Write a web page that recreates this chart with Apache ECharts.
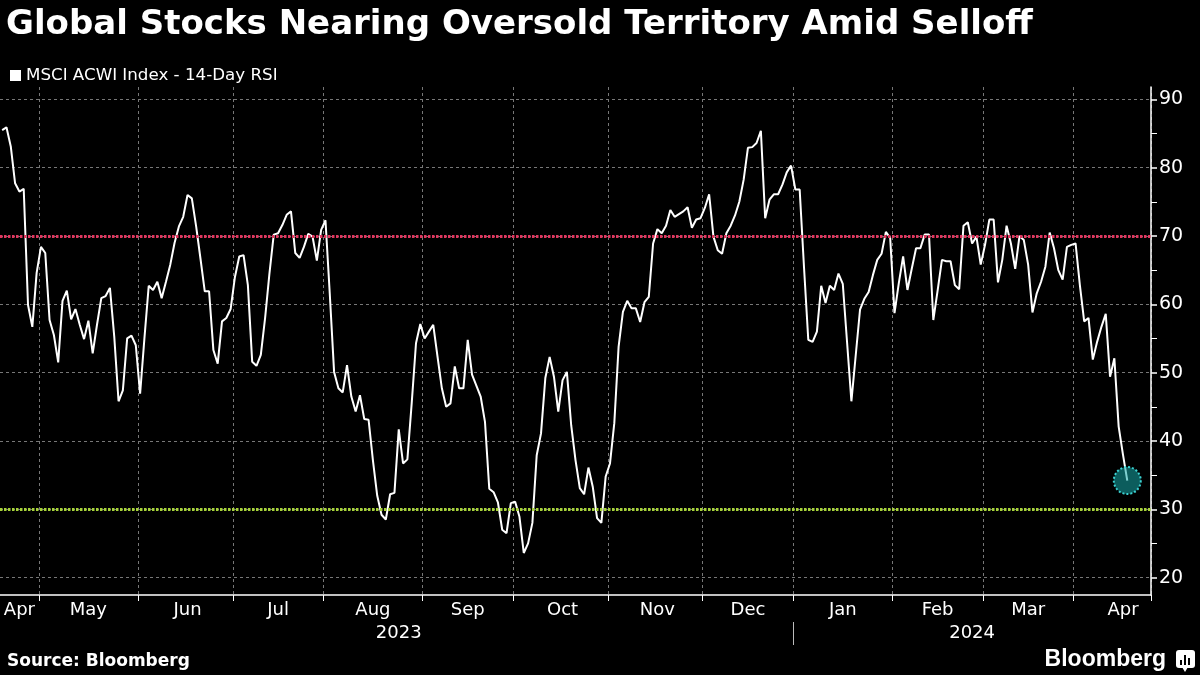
<!DOCTYPE html>
<html><head><meta charset="utf-8">
<script src="https://cdn.jsdelivr.net/npm/echarts@6/dist/echarts.min.js"></script>
<style>html,body{margin:0;padding:0;background:#000;}#chart{width:1200px;height:675px;}</style>
</head><body><div id="chart"></div>
<script>
const titleText = 'Global Stocks Nearing Oversold Territory Amid Selloff';
const seriesName = 'MSCI ACWI Index - 14-Day RSI';
const sourceText = 'Source: Bloomberg';
const brandText = 'Bloomberg';
const startDate = '2023-04-18';
const endDate = '2024-04-24';
const monthNames = ['Jan','Feb','Mar','Apr','May','Jun','Jul','Aug','Sep','Oct','Nov','Dec'];
const yTickValues = [20, 30, 40, 50, 60, 70, 80, 90];
const yMinorTickValues = [25, 35, 45, 55, 65, 75, 85];
const overbought = 70;
const oversold = 30;
const rsiValues = [
  85.5, 85.9, 83.1, 77.7, 76.5, 76.9, 59.9, 56.7, 64.6, 68.4,
  67.5, 57.7, 55.5, 51.5, 60.5, 62.0, 57.8, 59.3, 57.0, 54.9,
  57.6, 52.8, 57.0, 60.9, 61.2, 62.4, 55.3, 45.8, 47.4, 55.0,
  55.4, 54.0, 46.9, 55.0, 62.7, 62.1, 63.3, 60.9, 63.3, 65.8,
  69.0, 71.4, 72.8, 76.0, 75.5, 71.4, 66.7, 61.9, 61.9, 53.3,
  51.3, 57.5, 58.0, 59.3, 64.0, 67.0, 67.2, 62.8, 51.6, 51.0,
  52.6, 58.0, 64.5, 70.2, 70.4, 71.6, 73.1, 73.6, 67.5, 66.8,
  68.4, 70.3, 69.9, 66.4, 70.9, 72.3, 61.5, 50.1, 47.7, 47.1,
  51.1, 46.5, 44.3, 46.7, 43.2, 43.1, 37.2, 32.0, 29.2, 28.5,
  32.2, 32.4, 41.7, 36.7, 37.3, 45.5, 54.3, 57.1, 55.0, 56.0,
  57.0, 52.3, 47.7, 45.0, 45.5, 50.9, 47.7, 47.7, 54.8, 49.7,
  48.1, 46.5, 42.8, 33.0, 32.5, 31.0, 27.0, 26.5, 30.9, 31.1,
  28.9, 23.6, 25.0, 28.0, 37.9, 41.1, 49.2, 52.3, 49.4, 44.3,
  48.9, 50.1, 42.3, 37.2, 33.1, 32.2, 36.1, 33.3, 28.7, 28.0,
  34.8, 36.7, 42.6, 53.8, 58.9, 60.5, 59.4, 59.4, 57.4, 60.3,
  61.1, 68.9, 71.0, 70.4, 71.5, 73.8, 72.8, 73.2, 73.6, 74.2,
  71.2, 72.4, 72.6, 74.1, 76.1, 69.9, 67.9, 67.4, 70.4, 71.5,
  73.0, 75.0, 78.2, 82.9, 83.0, 83.6, 85.4, 72.6, 75.3, 76.1,
  76.1, 77.5, 79.3, 80.3, 76.8, 76.8, 65.5, 54.8, 54.5, 56.0,
  62.7, 60.2, 62.7, 62.1, 64.5, 63.0, 54.4, 45.8, 52.5, 59.2,
  60.8, 61.8, 64.3, 66.5, 67.4, 70.6, 69.7, 58.7, 63.1, 67.0,
  62.1, 65.2, 68.2, 68.2, 70.2, 70.2, 57.7, 62.0, 66.5, 66.3,
  66.3, 62.8, 62.2, 71.5, 72.0, 68.9, 69.9, 65.8, 68.7, 72.4,
  72.4, 63.2, 66.5, 71.5, 68.9, 65.2, 70.0, 69.4, 65.8, 58.8,
  61.6, 63.3, 65.5, 70.5, 68.2, 65.0, 63.6, 68.4, 68.7, 68.9,
  62.8, 57.5, 58.0, 51.9, 54.5, 56.7, 58.6, 49.4, 52.1, 42.1,
  38.0, 34.2
];

// weekday categories (trading-day axis)
const categories = [];
(function () {
  let d = new Date(startDate + 'T00:00:00Z');
  const end = new Date(endDate + 'T00:00:00Z');
  while (d <= end) {
    const wd = d.getUTCDay();
    if (wd !== 0 && wd !== 6) categories.push(d.toISOString().slice(0, 10));
    d = new Date(d.getTime() + 86400000);
  }
})();

function weekdaysInMonth(y, m) {
  let n = 0;
  const days = new Date(Date.UTC(y, m + 1, 0)).getUTCDate();
  for (let k = 1; k <= days; k++) {
    const wd = new Date(Date.UTC(y, m, k)).getUTCDay();
    if (wd !== 0 && wd !== 6) n++;
  }
  return n;
}

const monthStart = new Set();
const monthLabelIdx = new Set();
const yearStart = [];
const yearLabelIdx = new Set();
(function () {
  const groups = [];
  categories.forEach((c, i) => {
    const key = c.slice(0, 7);
    if (i === 0 || key !== categories[i - 1].slice(0, 7)) {
      groups.push({ s: i, e: i, key });
      if (i > 0) monthStart.add(i);
    } else groups[groups.length - 1].e = i;
  });
  groups.forEach((g, gi) => {
    const y = +g.key.slice(0, 4), m = +g.key.slice(5, 7) - 1;
    const firstDay = +categories[g.s].slice(8, 10);
    if (gi === 0 && firstDay > 7) monthLabelIdx.add(Math.floor((g.s + g.e) / 2));
    else monthLabelIdx.add(g.s + Math.floor(weekdaysInMonth(y, m) / 2));
  });
  const ygroups = [];
  categories.forEach((c, i) => {
    const key = c.slice(0, 4);
    if (i === 0 || key !== categories[i - 1].slice(0, 4)) {
      ygroups.push({ s: i, e: i });
      if (i > 0) yearStart.push(i);
    } else ygroups[ygroups.length - 1].e = i;
  });
  ygroups.forEach(g => yearLabelIdx.add(Math.round((g.s + g.e) / 2)));
})();

const lastIdx = rsiValues.length - 1;

const FONT = 'DejaVu Sans';
const chart = echarts.init(document.getElementById('chart'), null, { renderer: 'canvas' });
chart.setOption({
  backgroundColor: '#000',
  animation: false,
  title: {
    text: titleText, left: 1, top: 3,
    textStyle: { color: '#fff', fontSize: 34, fontWeight: 'bold', fontFamily: FONT }
  },
  legend: {
    left: 5, top: 62, itemWidth: 11, itemHeight: 11, itemGap: 6,
    icon: 'rect',
    textStyle: { color: '#fff', fontSize: 16.7, fontFamily: FONT },
    data: [{ name: seriesName, itemStyle: { color: '#fff' } }]
  },
  grid: { left: 0, right: 49, top: 87, bottom: 80, containLabel: false },
  xAxis: [{
    type: 'category', data: categories, boundaryGap: true,
    axisLine: { show: true, lineStyle: { color: '#fff', width: 1.5 } },
    axisTick: { show: true, length: 6, interval: (i) => monthStart.has(i), lineStyle: { color: '#fff', width: 1 } },
    splitLine: { show: true, interval: (i) => monthStart.has(i), lineStyle: { color: '#777', width: 1, type: [3, 3] } },
    axisLabel: {
      show: true, interval: (i) => monthLabelIdx.has(i), color: '#fff', fontSize: 18, fontFamily: FONT, margin: 6,
      formatter: (v) => monthNames[+v.slice(5, 7) - 1]
    }
  }, {
    type: 'category', data: categories, boundaryGap: true, position: 'bottom', offset: 34,
    axisLine: { show: false },
    axisTick: { show: false },
    splitLine: { show: false },
    axisLabel: {
      show: true, interval: (i) => yearLabelIdx.has(i), color: '#fff', fontSize: 18, fontFamily: FONT, margin: -5,
      formatter: (v) => v.slice(0, 4)
    }
  }],
  yAxis: [{
    type: 'value', position: 'right', min: 17.45, max: 91.8,
    axisLine: { show: true, lineStyle: { color: '#fff', width: 1.5 } },
    axisTick: { show: true, length: 6, customValues: yTickValues, lineStyle: { color: '#fff', width: 1.5 } },
    axisLabel: { show: true, customValues: yTickValues, color: '#fff', fontSize: 19, fontFamily: FONT, margin: 8 },
    splitLine: { show: true, lineStyle: { color: '#777', width: 1, type: [3, 3] } }
  }, {
    type: 'value', position: 'right', min: 17.45, max: 91.8,
    axisLine: { show: false },
    axisTick: { show: true, length: 6, customValues: yMinorTickValues, lineStyle: { color: '#fff', width: 1 } },
    axisLabel: { show: false },
    splitLine: { show: false }
  }],
  series: [{
    name: seriesName, type: 'line', xAxisIndex: 0, yAxisIndex: 0,
    data: rsiValues,
    showSymbol: false, symbol: 'none',
    lineStyle: { color: '#fff', width: 2 },
    itemStyle: { color: '#fff' },
    markLine: {
      silent: true, symbol: 'none', label: { show: false },
      data: [
        { yAxis: overbought, lineStyle: { color: '#e0375f', width: 3, type: [2.5, 1.5] } },
        { yAxis: oversold, lineStyle: { color: '#a6d23a', width: 3, type: [2.5, 1.5] } }
      ]
    },
    markPoint: {
      silent: true, symbol: 'circle', symbolSize: 27, label: { show: false },
      itemStyle: { color: 'rgba(22,170,170,0.55)', borderColor: '#3cd2d2', borderWidth: 2, borderType: [2, 2] },
      data: [{ coord: [categories[lastIdx], rsiValues[lastIdx]] }]
    }
  }],
  graphic: [
    { type: 'text', left: 7, top: 653, style: { text: sourceText, fill: '#fff', font: 'bold 17px "DejaVu Sans"' } },
    { type: 'text', right: 34, top: 648, style: { text: brandText, fill: '#fff', font: 'bold 23px "Liberation Sans"' } },
    { type: 'rect', shape: { x: 1176, y: 650, width: 19, height: 18, r: 3 }, style: { fill: '#fff' } },
    { type: 'polygon', shape: { points: [[1182, 667], [1188, 667], [1185, 672]] }, style: { fill: '#fff' } },
    { type: 'rect', shape: { x: 1180, y: 660, width: 2, height: 5 }, style: { fill: '#000' } },
    { type: 'rect', shape: { x: 1184, y: 655, width: 2, height: 10 }, style: { fill: '#000' } },
    { type: 'rect', shape: { x: 1188, y: 658, width: 2, height: 7 }, style: { fill: '#000' } }
  ]
});

// year separator positioned from the category scale
const bandW = chart.convertToPixel({ xAxisIndex: 0 }, categories[1]) - chart.convertToPixel({ xAxisIndex: 0 }, categories[0]);
const sepGraphics = yearStart.map(i => {
  const x = Math.round(chart.convertToPixel({ xAxisIndex: 0 }, categories[i]) - bandW / 2) + 0.5;
  return { type: 'line', shape: { x1: x, y1: 622, x2: x, y2: 645 }, style: { stroke: '#bbb', lineWidth: 1 } };
});
chart.setOption({ graphic: chart.getOption().graphic[0].elements.concat(sepGraphics) });
</script></body></html>
